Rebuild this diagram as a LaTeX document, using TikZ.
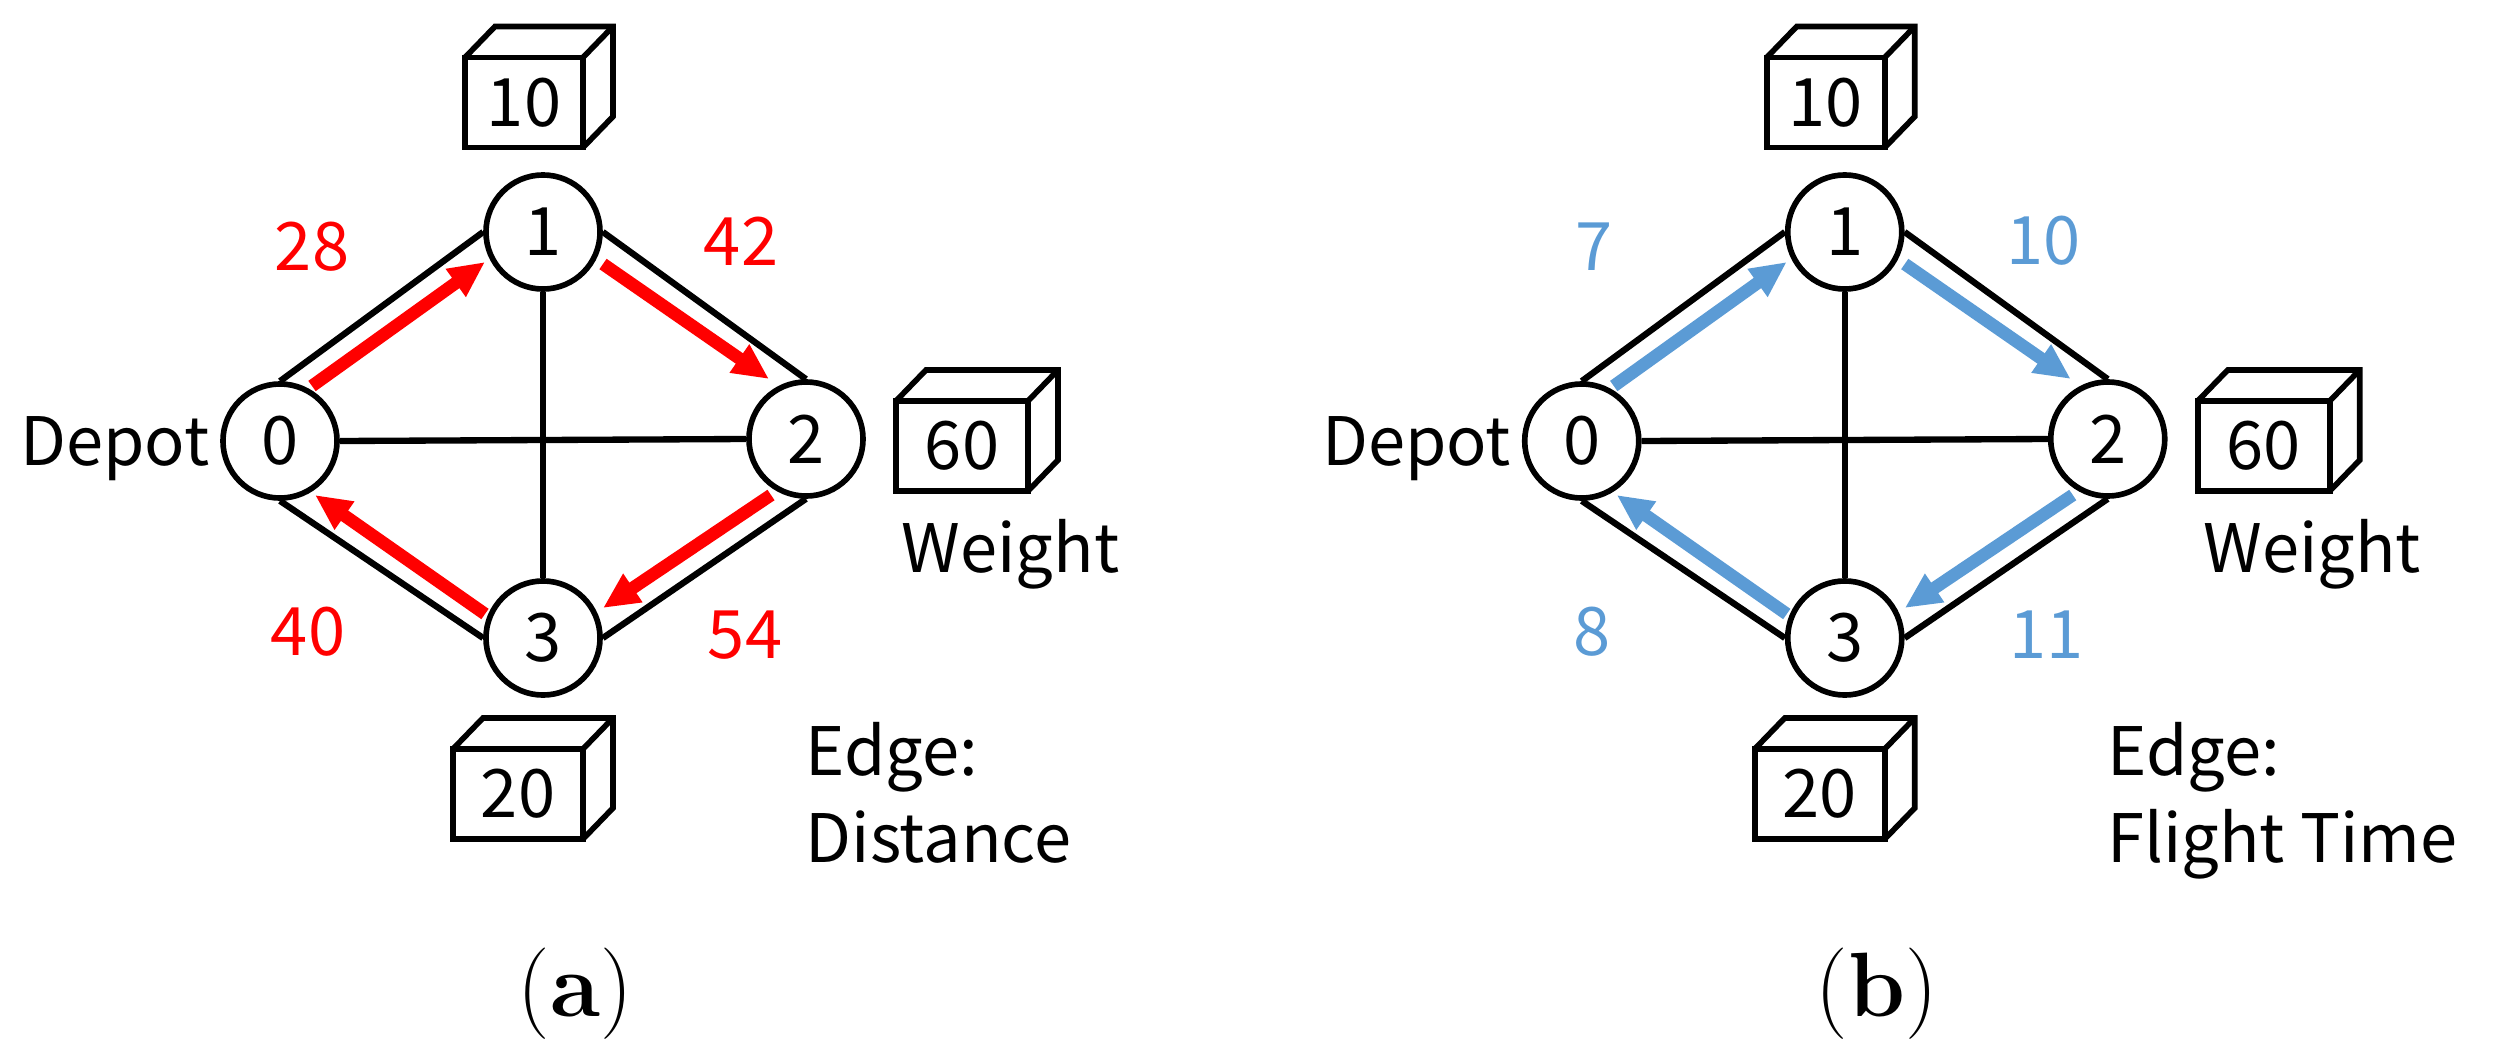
\documentclass[tikz,border=0pt]{standalone}
\usepackage{fontspec}
\setmainfont{Noto Sans CJK JP}
\newfontfamily\capfont{Latin Modern Roman}
\usetikzlibrary{arrows.meta}
\definecolor{myblue}{RGB}{91,155,213}
\tikzset{
  v/.style={circle,draw,line width=1.6pt,minimum size=1.14cm,inner sep=0pt,font=\fontsize{19}{22}\selectfont},
  e/.style={line width=1.8pt},
  txt/.style={inner sep=0pt,font=\fontsize{19}{22}\selectfont},
  lab/.style={txt},
  box/.style={draw,line width=1.6pt,inner sep=0pt,outer sep=0pt,font=\fontsize{19}{22}\selectfont},
  rt/.style={line width=3.6pt,-{Triangle[length=0.36cm,width=0.32cm]}},
}
\newcommand\cube[5]{% name, x, y, w(px), text
  \node[box,minimum width=#4*0.01cm,minimum height=0.9cm] (#1) at (#2,#3) {#5};
  \draw[line width=1.6pt,line join=miter] (#1.north west) -- ([shift={(30,-31)}]#1.north west) -- ([shift={(30,-31)}]#1.north east) -- ([shift={(30,-31)}]#1.south east) -- (#1.south east);
  \draw[line width=1.6pt] (#1.north east) -- ([shift={(30,-31)}]#1.north east);
}
\newcommand\drawpanel[4]{% prefix, color, edge text, caption
  \node[v] (#1n0) at (280,441) {0};
  \node[v] (#1n1) at (543,232) {1};
  \node[v] (#1n2) at (806,439) {2};
  \node[v] (#1n3) at (543,638) {3};
  \draw[e] (#1n0.north) -- (#1n1.west);
  \draw[e] (#1n1.east) -- (#1n2.north);
  \draw[e] (#1n2.south) -- (#1n3.east);
  \draw[e] (#1n3.west) -- (#1n0.south);
  \draw[e] (#1n0.east) -- (#1n2.west);
  \draw[e] (#1n1.south) -- (#1n3.north);
  \coordinate (#1a0) at (312,386); \coordinate (#1a1) at (485,262);
  \coordinate (#1b0) at (603,264); \coordinate (#1b1) at (769,379);
  \coordinate (#1c0) at (771,495); \coordinate (#1c1) at (603,608);
  \coordinate (#1d0) at (485,614); \coordinate (#1d1) at (315,495);
  \draw[rt,#2] (#1a0) -- (#1a1);
  \draw[rt,#2] (#1b0) -- (#1b1);
  \draw[rt,#2] (#1c0) -- (#1c1);
  \draw[rt,#2] (#1d0) -- (#1d1);
  \cube{#1k1}{524}{102.5}{118}{10}
  \cube{#1k2}{962}{446}{132}{60}
  \cube{#1k3}{518}{794}{130}{20}
  \node[txt,anchor=base east] (#1dep) at (210,465) {Depot};
  \node[txt,anchor=base west] (#1wt) at (901,572) {Weight};
  \node[txt,anchor=base west] (#1ed) at (805,775) {Edge:};
  \node[txt,anchor=base west] (#1ed2) at (805,862) {#3};
  \node[inner sep=0pt,anchor=base,font=\capfont\fontsize{26}{30}\selectfont] (#1cap) at (575,1016) {(\textbf{#4})};
}
\begin{document}
\begin{tikzpicture}[x=0.01cm,y=-0.01cm]
\useasboundingbox (0,0) rectangle (2499,1045);
\drawpanel{A}{red}{Distance}{a}
\node[lab,text=red] (A28) at (312,247) {28};
\node[lab,text=red] (A42) at (741,241) {42};
\node[lab,text=red] (A40) at (308,632) {40};
\node[lab,text=red] (A54) at (745,635) {54};
\begin{scope}[xshift=13.01cm]
\drawpanel{B}{myblue}{Flight Time}{b}
\node[lab,text=myblue] (B7) at (292,247) {7};
\node[lab,text=myblue] (B10) at (742,241) {10};
\node[lab,text=myblue] (B8) at (290,632) {8};
\node[lab,text=myblue] (B11) at (745,635) {11};
\end{scope}
\end{tikzpicture}
\end{document}
